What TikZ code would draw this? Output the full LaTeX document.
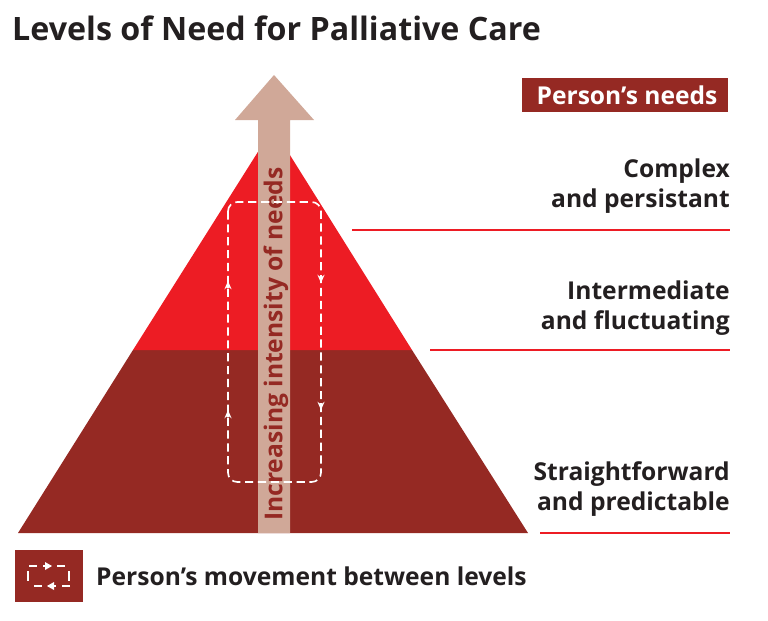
\documentclass[tikz,border=0pt]{standalone}
\usepackage{fontspec}
\setmainfont{Open Sans}
\definecolor{pc_dark}{RGB}{149, 41, 35}
\definecolor{pc_red}{RGB}{237, 28, 36}
\definecolor{pc_arrow}{RGB}{208, 168, 152}
\definecolor{pc_text}{RGB}{35, 31, 32}
\usetikzlibrary{arrows.meta, positioning, calc}
\tikzset{
  level label/.style={anchor=east, align=right, font=\bfseries\fontsize{21}{26}\selectfont, text=pc_text, inner sep=0pt},
  level line/.style={pc_red, line width=1.2pt},
  move loop/.style={white, line width=1.4pt, dash pattern=on 7pt off 4pt, rounded corners=8pt},
  move tip/.style={white, -{Stealth[length=7pt,width=6pt]}, line width=1.4pt}
}
\begin{document}
\begin{tikzpicture}[x=0.03cm, y=-0.03cm]
  \useasboundingbox (0,0) rectangle (768,620);
  % title
  \node[anchor=west, inner sep=0pt, font=\bfseries\fontsize{27.5}{32}\selectfont, text=pc_text] (title) at (12,28) {Levels of Need for Palliative Care};
  % pyramid
  \fill[pc_dark] (18,533) -- (528,533) -- (412,350) -- (133,350) -- cycle;
  \fill[pc_red] (133,350) -- (412,350) -- (273,128) -- cycle;
  % arrow
  \fill[pc_arrow] (258,533) -- (258,120) -- (235,120) -- (274,75) -- (314,120) -- (290,120) -- (290,533) -- cycle;
  \node[rotate=90, font=\bfseries\fontsize{21}{24}\selectfont, text=pc_dark] (intensity) at (276,344) {Increasing intensity of needs};
  % movement loop
  \draw[move loop] (228,202) rectangle (321,482);
  \coordinate (lup1) at (228,281);
  \coordinate (lup2) at (228,410);
  \coordinate (rdn1) at (321,283);
  \coordinate (rdn2) at (321,410);
  \draw[move tip] ($(lup1)+(0,7)$) -- (lup1);
  \draw[move tip] ($(lup2)+(0,7)$) -- (lup2);
  \draw[move tip] ($(rdn1)-(0,7)$) -- (rdn1);
  \draw[move tip] ($(rdn2)-(0,7)$) -- (rdn2);
  % needs header
  \fill[pc_dark] (522,78) rectangle (728,112);
  \node[font=\bfseries\fontsize{21}{24}\selectfont, text=white] (needs) at (627,95) {Person’s needs};
  % levels
  \node[level label] (complex) at (730,186) {Complex\\and persistant};
  \node[level label] (inter) at (730,308) {Intermediate\\and fluctuating};
  \node[level label] (straight) at (730,489) {Straightforward\\and predictable};
  \draw[level line] (352,230) -- (730,230);
  \draw[level line] (430,350) -- (730,350);
  \draw[level line] (540,533) -- (730,533);
  % legend
  \fill[pc_dark] (15,550) rectangle (83,602);
  \draw[white, line width=1.4pt, dash pattern=on 7pt off 5pt] (29,566) -- (70,566);
  \draw[white, line width=1.4pt, dash pattern=on 7pt off 5pt] (70,586) -- (29,586);
  \draw[white, line width=1.4pt] (28,571) -- (28,581) (69,571) -- (69,581);
  \fill[white] (45,562) -- (52,566) -- (45,570) -- cycle;
  \fill[white] (54,582) -- (47,586) -- (54,590) -- cycle;
  \node[anchor=west, inner sep=0pt, font=\bfseries\fontsize{21}{24}\selectfont, text=pc_text] (move) at (96,576) {Person’s movement between levels};
\end{tikzpicture}
\end{document}
